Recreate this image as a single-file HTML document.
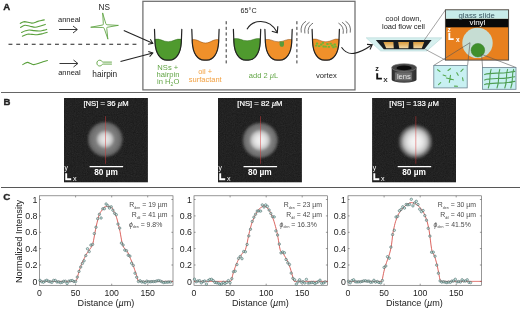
<!DOCTYPE html>
<html><head><meta charset="utf-8"><title>Figure</title>
<style>
html,body{margin:0;padding:0;background:#fff;}
body{width:520px;height:310px;overflow:hidden;}
svg{display:block;}
text{font-family:"Liberation Sans",sans-serif;}
.b{font-weight:bold;}
.g{fill:#62a545;}
.o{fill:#f2a040;}
.k{fill:#222;}
.w{fill:#fff;}
.m{text-anchor:middle;}
.e{text-anchor:end;}
</style></head><body>
<svg width="520" height="310" viewBox="0 0 520 310">
<defs>
<filter id="nz" x="0" y="0" width="100%" height="100%"><feTurbulence type="fractalNoise" baseFrequency="0.9" numOctaves="2" seed="3"/><feColorMatrix type="matrix" values="0 0 0 0 1  0 0 0 0 1  0 0 0 0 1  0.12 0.12 0.12 0 -0.08"/></filter>
<filter id="bl"><feGaussianBlur stdDeviation="0.35"/></filter>
</defs>
<rect width="520" height="310" fill="#fff"/>

<text class="b k" stroke="#222" stroke-width="0.35" x="3.2" y="10" font-size="9.6">A</text>
<text class="b k" stroke="#222" stroke-width="0.35" x="3.5" y="104.8" font-size="9.6">B</text>
<text class="b k" stroke="#222" stroke-width="0.35" x="3.2" y="200" font-size="9.8">C</text>
<line x1="1" y1="92.5" x2="520" y2="92.5" stroke="#555" stroke-width="0.9"/>
<line x1="1" y1="187.5" x2="520" y2="187.5" stroke="#444" stroke-width="0.9"/>
<path d="M20.2,23.4 C20.9,23.1 22.6,21.7 24.5,21.6 C26.4,21.6 29.6,23.1 31.8,23.1 C34.0,23.1 35.9,21.9 38.0,21.4 C40.1,20.9 43.2,20.1 44.3,19.9" fill="none" stroke="#5aa03c" stroke-width="1.1" stroke-linecap="round"/>
<path d="M20.6,27.5 C21.3,27.1 23.4,25.4 25.0,25.2 C26.6,25.0 28.3,25.9 30.0,26.2 C31.7,26.5 33.4,27.2 35.1,27.2 C36.9,27.2 38.8,26.5 40.5,26.0 C42.2,25.5 44.5,24.7 45.3,24.4" fill="none" stroke="#5aa03c" stroke-width="1.1" stroke-linecap="round"/>
<path d="M21.6,32.5 C22.2,32.2 24.2,31.2 25.5,30.8 C26.8,30.4 27.9,30.0 29.3,30.0 C30.7,30.0 32.4,30.4 34.0,30.6 C35.6,30.8 37.5,31.0 39.0,31.0 C40.5,31.0 41.7,30.7 43.0,30.4 C44.3,30.1 46.1,29.6 46.7,29.4" fill="none" stroke="#5aa03c" stroke-width="1.1" stroke-linecap="round"/>
<path d="M22.4,36.2 C23.2,35.9 25.8,34.5 27.4,34.2 C29.0,33.9 30.4,34.3 32.0,34.4 C33.6,34.5 35.4,34.8 37.1,34.7 C38.9,34.6 40.8,34.1 42.5,33.7 C44.2,33.3 46.4,32.5 47.2,32.3" fill="none" stroke="#5aa03c" stroke-width="1.1" stroke-linecap="round"/>
<path d="M22.8,64.6 C23.2,64.4 24.4,63.6 25.2,63.2 C26.0,62.8 26.8,62.3 27.7,62.4 C28.6,62.5 29.8,63.2 30.8,63.6 C31.8,64.0 32.6,64.6 33.8,64.6 C35.0,64.6 36.5,64.1 38.0,63.6 C39.5,63.1 41.4,62.3 43.0,61.8 C44.6,61.3 46.7,60.7 47.4,60.5" fill="none" stroke="#5aa03c" stroke-width="1.1" stroke-linecap="round"/>
<text class="k" x="58" y="21.8" font-size="7.5">anneal</text>
<text class="k" x="58.2" y="74.6" font-size="7.5">anneal</text>
<path d="M59,29.5 H77" stroke="#222" stroke-width="0.9" fill="none"/><path d="M73,26.0 L77.4,29.5 L73,33.0" stroke="#222" stroke-width="0.9" fill="none"/>
<path d="M59.5,63.5 H77.5" stroke="#222" stroke-width="0.9" fill="none"/><path d="M73.5,60.0 L77.9,63.5 L73.5,67.0" stroke="#222" stroke-width="0.9" fill="none"/>
<text class="k m" x="104.3" y="9.8" font-size="8.2">NS</text>
<text class="k m" x="104.8" y="77.2" font-size="8.3">hairpin</text>
<line x1="8.5" y1="44.3" x2="138" y2="44.3" stroke="#222" stroke-width="1.1" stroke-dasharray="3.9 3.85"/>
<path d="M102.7,13.3 L103.32,23.79 Q103.53,24.97 102.34,25.06 L91.1,27.2 M102.7,13.3 L105.81,23.62 Q106.03,24.80 107.23,24.74 L118,25.4 M107.8,38.8 L104.28,28.59 Q104.02,27.42 102.83,27.51 L91.1,27.2 M107.8,38.8 L106.78,28.43 Q106.52,27.25 107.72,27.19 L118,25.4" fill="none" stroke="#5aa03c" stroke-width="0.85" stroke-linejoin="round" stroke-linecap="round"/>
<path d="M111.5,62.1 H103.2 C102,62.1 101.6,60.2 99.8,60.2 C98,60.2 96.9,61.5 96.9,63.1 C96.9,64.7 98,66 99.8,66 C101.6,66 102,64.1 103.2,64.1 H111.5" fill="none" stroke="#5aa03c" stroke-width="0.9" stroke-linecap="round"/>
<rect x="142.9" y="1.3" width="212.1" height="88.6" fill="#fff" stroke="#6e6e6e" stroke-width="1.25"/>
<path d="M123.8,30.4 L152.8,43.3" stroke="#222" stroke-width="1.05" fill="none"/><path d="M148.1,44.2 L152.8,43.3 L150.3,39.2" stroke="#222" stroke-width="1.05" fill="none"/>
<path d="M120.5,61.5 L152.8,53.1" stroke="#222" stroke-width="1.05" fill="none"/><path d="M149.6,56.7 L152.8,53.1 L148.3,51.5" stroke="#222" stroke-width="1.05" fill="none"/>
<path d="M154.8,39.3 C160.5,38.199999999999996 162.7,41.699999999999996 168.2,41.699999999999996 C173.6,41.699999999999996 175.8,38.199999999999996 181.5,39.3 L181.3,42.5 C180.7,53.5 176.0,60.1 169.6,60.1 L166.8,60.1 C160.3,60.1 155.6,53.5 155.0,42.5 Z" fill="#4f9a2e" stroke="#2f6a1c" stroke-width="0.5"/><path d="M154.5,29.4 L155.0,42.5 C155.6,53.5 160.3,60.1 166.8,60.1 L169.6,60.1 C176.0,60.1 180.7,53.5 181.3,42.5 L181.8,29.4" fill="none" stroke="#222" stroke-width="1.2" stroke-linecap="round"/>
<path d="M192.1,39.8 C197.8,38.699999999999996 200.0,43.0 205.5,43.0 C210.9,43.0 213.1,38.699999999999996 218.8,39.8 L218.6,42.5 C218.0,53.5 213.3,60.1 206.9,60.1 L204.1,60.1 C197.6,60.1 192.9,53.5 192.3,42.5 Z" fill="#f0902a" stroke="#8a4a10" stroke-width="0.5"/><path d="M191.8,29.4 L192.3,42.5 C192.9,53.5 197.6,60.1 204.1,60.1 L206.9,60.1 C213.3,60.1 218.0,53.5 218.6,42.5 L219.10000000000002,29.4" fill="none" stroke="#222" stroke-width="1.2" stroke-linecap="round"/>
<path d="M233.7,38.8 C239.4,37.699999999999996 241.6,40.8 247.1,40.8 C252.5,40.8 254.7,37.699999999999996 260.4,38.8 L260.2,42.5 C259.6,53.5 254.9,60.1 248.5,60.1 L245.7,60.1 C239.2,60.1 234.5,53.5 233.9,42.5 Z" fill="#4f9a2e" stroke="#2f6a1c" stroke-width="0.5"/><path d="M233.4,29.4 L233.9,42.5 C234.5,53.5 239.2,60.1 245.7,60.1 L248.5,60.1 C254.9,60.1 259.6,53.5 260.2,42.5 L260.7,29.4" fill="none" stroke="#222" stroke-width="1.2" stroke-linecap="round"/>
<path d="M265.2,39.6 C270.9,38.5 273.1,41.800000000000004 278.5,41.800000000000004 C284.0,41.800000000000004 286.2,38.5 291.9,39.6 L291.7,42.5 C291.1,53.5 286.4,60.1 279.9,60.1 L277.1,60.1 C270.7,60.1 266.0,53.5 265.4,42.5 Z" fill="#f0902a" stroke="#8a4a10" stroke-width="0.5"/><path d="M264.9,29.4 L265.4,42.5 C266.0,53.5 270.7,60.1 277.1,60.1 L279.9,60.1 C286.4,60.1 291.1,53.5 291.7,42.5 L292.2,29.4" fill="none" stroke="#222" stroke-width="1.2" stroke-linecap="round"/>
<path d="M312.4,39.2 C318.1,38.1 320.3,41.800000000000004 325.8,41.800000000000004 C331.2,41.800000000000004 333.4,38.1 339.1,39.2 L338.9,42.5 C338.3,53.5 333.6,60.1 327.1,60.1 L324.4,60.1 C317.9,60.1 313.2,53.5 312.6,42.5 Z" fill="#f0902a" stroke="#8a4a10" stroke-width="0.5"/><path d="M312.1,29.4 L312.6,42.5 C313.2,53.5 317.9,60.1 324.4,60.1 L327.1,60.1 C333.6,60.1 338.3,53.5 338.9,42.5 L339.40000000000003,29.4" fill="none" stroke="#222" stroke-width="1.2" stroke-linecap="round"/>
<path d="M279.6,41.6 h4.4 v3.4 l-0.9,1.7 h-2.5 l-1,-1.6z" fill="#5a9a3a"/>
<path d="M314.6,43 Q326,45.6 337.2,43 L336.6,47.4 Q326,49 315,47.4 Z" fill="#d8a428" opacity="0.55"/>
<rect x="320.1" y="43.5" width="2.3" height="1.9" rx="0.5" fill="#72b436"/><rect x="326.3" y="43.0" width="2.3" height="1.9" rx="0.5" fill="#72b436"/><rect x="327.7" y="45.9" width="2.3" height="1.9" rx="0.5" fill="#72b436"/><rect x="324.6" y="45.7" width="2.3" height="1.9" rx="0.5" fill="#72b436"/><rect x="333.6" y="43.5" width="2.3" height="1.9" rx="0.5" fill="#72b436"/><rect x="315.9" y="42.5" width="2.3" height="1.9" rx="0.5" fill="#72b436"/><rect x="321.8" y="41.9" width="2.3" height="1.9" rx="0.5" fill="#72b436"/><rect x="331.1" y="44.5" width="2.3" height="1.9" rx="0.5" fill="#72b436"/><rect x="318.0" y="45.2" width="2.3" height="1.9" rx="0.5" fill="#72b436"/><rect x="329.5" y="42.7" width="2.3" height="1.9" rx="0.5" fill="#72b436"/><rect x="334.5" y="45.7" width="2.3" height="1.9" rx="0.5" fill="#72b436"/><rect x="322.5" y="45.5" width="2.3" height="1.9" rx="0.5" fill="#72b436"/><rect x="315.1" y="44.7" width="2.3" height="1.9" rx="0.5" fill="#72b436"/><rect x="332.3" y="46.3" width="2.3" height="1.9" rx="0.5" fill="#72b436"/>
<line x1="226.2" y1="21.2" x2="226.2" y2="63.4" stroke="#333" stroke-width="1" stroke-dasharray="3.1 2.5"/>
<line x1="296.9" y1="21.2" x2="296.9" y2="63.4" stroke="#333" stroke-width="1" stroke-dasharray="3.1 2.5"/>
<text class="g m" font-size="7.6"><tspan x="167.8" y="69.9">NSs +</tspan><tspan x="168" y="77">hairpin</tspan><tspan x="168.2" y="84.2">in H<tspan font-size="5" dy="1.6">2</tspan><tspan dy="-1.6">O</tspan></tspan></text>
<text class="o m" font-size="7.5"><tspan x="205.2" y="74.4">oil +</tspan><tspan x="205.2" y="82">surfactant</tspan></text>
<text class="k m" x="248.6" y="12.6" font-size="7.2">65°C</text>
<text class="g m" x="263.5" y="78" font-size="7.5">add 2 <tspan font-style="italic">µ</tspan>L</text>
<text class="k m" x="326.4" y="78" font-size="7.6">vortex</text>
<path d="M247,29.3 C252,19.5 269,17.5 276.8,31.8" stroke="#222" stroke-width="1.15" fill="none"/>
<path d="M271.8,31.2 L277.3,32.8 L277.8,26.2" stroke="#222" stroke-width="1.15" fill="none"/>
<path d="M301.2,32.2 Q300.0,24.7 305.6,21.5 M350.3,32.2 Q351.5,24.7 345.9,21.5 M304.8,33 Q303.6,25.599999999999998 309.2,22.4 M346.7,33 Q347.9,25.599999999999998 342.3,22.4 M308.3,33.4 Q307.1,26.5 312.7,23.3 M343.2,33.4 Q344.4,26.5 338.8,23.3 " stroke="#444" stroke-width="0.75" fill="none" stroke-linecap="round"/>
<path d="M341.5,47.3 C345,52.5 349,54.2 354,53.4 C360,52.4 366,49 371.8,45" stroke="#222" stroke-width="1.1" fill="none"/>
<path d="M367,44.4 L372.2,44.7 L370,49.6" stroke="#222" stroke-width="1.1" fill="none"/>
<text class="k m" font-size="7.5"><tspan x="403.5" y="20.8">cool down,</tspan><tspan x="403.5" y="28.9">load flow cell</tspan></text>
<path d="M366.2,37.8 H441.8 L426.7,51 H380.7 Z" fill="#d6f0ef" stroke="#a8d0d0" stroke-width="0.5"/>
<path d="M375.8,39.9 H431.6 L424.4,49.2 H383.8 Z" fill="#181c20"/>
<defs><linearGradient id="tg" x1="0" y1="0" x2="0" y2="1"><stop offset="0" stop-color="#d99a3c"/><stop offset="0.6" stop-color="#e9c07a"/><stop offset="1" stop-color="#f0d8a8"/></linearGradient></defs>
<path d="M383.4,42 H393.4 L393.8,48.3 H386.2 Z" fill="url(#tg)"/>
<path d="M398.2,42 H409 L408.4,48.3 H399.2 Z" fill="url(#tg)"/>
<path d="M413.2,42 H424.2 L421.8,48.3 H413.4 Z" fill="url(#tg)"/>
<path d="M423.9,40.6 L445.4,10 M425.4,49.4 L445.4,60" stroke="#666" stroke-width="0.6" fill="none"/>
<text class="k b" x="375.2" y="71.1" font-size="7.3">z</text>
<path d="M377.2,73.2 V78.6 H381.9" stroke="#111" stroke-width="1.9" fill="none"/>
<text class="k" x="383.4" y="81.7" font-size="8" stroke="#222" stroke-width="0.2">x</text>
<defs><linearGradient id="lg" x1="0" y1="0" x2="1" y2="0"><stop offset="0" stop-color="#2a2a2a"/><stop offset="0.3" stop-color="#4a4a4a"/><stop offset="0.7" stop-color="#4a4a4a"/><stop offset="1" stop-color="#2a2a2a"/></linearGradient></defs>
<path d="M391.7,67.6 V79.6 A12.4,3.2 0 0 0 416.5,79.6 V67.6 Z" fill="url(#lg)"/>
<ellipse cx="404.1" cy="67.6" rx="12.4" ry="3.9" fill="#444" stroke="#808080" stroke-width="0.6"/>
<ellipse cx="404.1" cy="67.9" rx="7.6" ry="2.3" fill="#0c0c0c"/>
<rect x="394.9" y="72.4" width="17" height="8" fill="#6c6c6c"/>
<text class="m" x="403.9" y="79" font-size="7.6" fill="#eaeaea">lens</text>
<rect x="445.4" y="9.8" width="63.2" height="50.3" fill="#e8801e"/>
<rect x="445.4" y="9.8" width="63.2" height="9.1" fill="#c8ecea"/>
<rect x="445.4" y="18.9" width="63.2" height="8.4" fill="#0a0a0a"/>
<circle cx="477.5" cy="42.9" r="15.2" fill="#c6ddd3"/>
<circle cx="477.9" cy="50.2" r="6.8" fill="#3f8f2c" stroke="#357a26" stroke-width="0.5"/>
<rect x="445.4" y="9.8" width="63.2" height="50.3" fill="none" stroke="#444" stroke-width="0.9"/>
<text class="m" x="476.7" y="17.5" font-size="7.8" fill="#3a5560">glass slide</text>
<text class="m w" x="477.4" y="25.3" font-size="8">vinyl</text>
<text class="w b" x="447.5" y="32.1" font-size="6.4">z</text>
<path d="M449.3,32.8 V39.1 H453.7" stroke="#fff" stroke-width="1.9" fill="none"/>
<text class="w b" x="455.9" y="42.2" font-size="6.6">x</text>
<path d="M470,42.7 L433.8,65.4 M470,42.7 L467.6,65.4 M481.6,54.3 L482.6,67.5 M481.6,54.3 L516,67.5" stroke="#555" stroke-width="0.6" fill="none"/>
<rect x="433.8" y="65.4" width="33.4" height="22.5" fill="#c8f0f2" stroke="#6a8290" stroke-width="0.8"/>
<rect x="482.4" y="67.5" width="33.6" height="21.8" fill="#c8f0f2" stroke="#6a8290" stroke-width="0.8"/>
<path d="M437.6,69.7 L440.0,71.5 M448.0,70.5 L450.4,68.7 M460.9,71.3 L463.1,69.1 M462.5,77.7 L463.1,80.7 M438.5,84.6 L440.7,82.6 M454.5,86.1 L457.5,86.3 M443.1,75.0 L445.9,76.0 M456.8,72.7 L458.2,75.3 M446.4,78.0 L453.4,79.8 M450.5,75.4 L449.3,82.4 " stroke="#55a850" stroke-width="1.1" fill="none" stroke-linecap="round"/>
<path d="M484.6,74.6 C492,71.8 500,74.6 514.8,71.4 M484.6,80.0 C492,77.2 500,80.0 514.8,76.80000000000001 M484.6,84.6 C492,81.8 500,84.6 514.8,81.4 M491.09999999999997,69.4 C488.9,75 491.2,81 488.3,88 M499.79999999999995,69.4 C497.59999999999997,75 499.9,81 497.0,88 M507.59999999999997,69.4 C505.4,75 507.7,81 504.8,88 M513.6,69.4 C511.40000000000003,75 513.7,81 510.80000000000007,88 " stroke="#4f9f55" stroke-width="1.1" fill="none" stroke-linecap="round"/>
<defs><filter id="bb0" x="-30%" y="-30%" width="160%" height="160%"><feGaussianBlur stdDeviation="1.1"/></filter>
<radialGradient id="h0" gradientUnits="userSpaceOnUse" cx="105.2" cy="139.3" r="17.8"><stop offset="0" stop-color="#8a8a8a" stop-opacity="1.000"/><stop offset="0.3" stop-color="#8a8a8a" stop-opacity="0.972"/><stop offset="0.5" stop-color="#8a8a8a" stop-opacity="0.917"/><stop offset="0.65" stop-color="#8a8a8a" stop-opacity="0.848"/><stop offset="0.78" stop-color="#8a8a8a" stop-opacity="0.755"/><stop offset="0.87" stop-color="#8a8a8a" stop-opacity="0.654"/><stop offset="0.93" stop-color="#8a8a8a" stop-opacity="0.549"/><stop offset="0.97" stop-color="#8a8a8a" stop-opacity="0.428"/><stop offset="1.0" stop-color="#8a8a8a" stop-opacity="0.000"/></radialGradient>
<radialGradient id="d0" gradientUnits="userSpaceOnUse" cx="105.2" cy="139.3" r="9.0"><stop offset="0" stop-color="#ffffff" stop-opacity="0.800"/><stop offset="0.3" stop-color="#ffffff" stop-opacity="0.756"/><stop offset="0.5" stop-color="#ffffff" stop-opacity="0.673"/><stop offset="0.65" stop-color="#ffffff" stop-opacity="0.575"/><stop offset="0.78" stop-color="#ffffff" stop-opacity="0.456"/><stop offset="0.87" stop-color="#ffffff" stop-opacity="0.342"/><stop offset="0.93" stop-color="#ffffff" stop-opacity="0.241"/><stop offset="0.97" stop-color="#ffffff" stop-opacity="0.147"/><stop offset="1.0" stop-color="#ffffff" stop-opacity="0.000"/></radialGradient>
<radialGradient id="h1" gradientUnits="userSpaceOnUse" cx="260.2" cy="140.3" r="18.0"><stop offset="0" stop-color="#909090" stop-opacity="1.000"/><stop offset="0.3" stop-color="#909090" stop-opacity="0.972"/><stop offset="0.5" stop-color="#909090" stop-opacity="0.917"/><stop offset="0.65" stop-color="#909090" stop-opacity="0.848"/><stop offset="0.78" stop-color="#909090" stop-opacity="0.755"/><stop offset="0.87" stop-color="#909090" stop-opacity="0.654"/><stop offset="0.93" stop-color="#909090" stop-opacity="0.549"/><stop offset="0.97" stop-color="#909090" stop-opacity="0.428"/><stop offset="1.0" stop-color="#909090" stop-opacity="0.000"/></radialGradient>
<radialGradient id="d1" gradientUnits="userSpaceOnUse" cx="260.2" cy="140.3" r="10.6"><stop offset="0" stop-color="#ffffff" stop-opacity="0.880"/><stop offset="0.3" stop-color="#ffffff" stop-opacity="0.832"/><stop offset="0.5" stop-color="#ffffff" stop-opacity="0.740"/><stop offset="0.65" stop-color="#ffffff" stop-opacity="0.633"/><stop offset="0.78" stop-color="#ffffff" stop-opacity="0.501"/><stop offset="0.87" stop-color="#ffffff" stop-opacity="0.377"/><stop offset="0.93" stop-color="#ffffff" stop-opacity="0.265"/><stop offset="0.97" stop-color="#ffffff" stop-opacity="0.161"/><stop offset="1.0" stop-color="#ffffff" stop-opacity="0.000"/></radialGradient>
<radialGradient id="h2" gradientUnits="userSpaceOnUse" cx="415.5" cy="141.7" r="17.0"><stop offset="0" stop-color="#929292" stop-opacity="1.000"/><stop offset="0.3" stop-color="#929292" stop-opacity="0.972"/><stop offset="0.5" stop-color="#929292" stop-opacity="0.917"/><stop offset="0.65" stop-color="#929292" stop-opacity="0.848"/><stop offset="0.78" stop-color="#929292" stop-opacity="0.755"/><stop offset="0.87" stop-color="#929292" stop-opacity="0.654"/><stop offset="0.93" stop-color="#929292" stop-opacity="0.549"/><stop offset="0.97" stop-color="#929292" stop-opacity="0.428"/><stop offset="1.0" stop-color="#929292" stop-opacity="0.000"/></radialGradient>
<radialGradient id="d2" gradientUnits="userSpaceOnUse" cx="415.5" cy="141.7" r="14.2"><stop offset="0" stop-color="#ffffff" stop-opacity="0.920"/><stop offset="0.3" stop-color="#ffffff" stop-opacity="0.869"/><stop offset="0.5" stop-color="#ffffff" stop-opacity="0.774"/><stop offset="0.65" stop-color="#ffffff" stop-opacity="0.662"/><stop offset="0.78" stop-color="#ffffff" stop-opacity="0.524"/><stop offset="0.87" stop-color="#ffffff" stop-opacity="0.394"/><stop offset="0.93" stop-color="#ffffff" stop-opacity="0.277"/><stop offset="0.97" stop-color="#ffffff" stop-opacity="0.169"/><stop offset="1.0" stop-color="#ffffff" stop-opacity="0.000"/></radialGradient>
</defs>
<rect x="64.0" y="98.0" width="83.9" height="84.3" fill="#181818"/>
<rect x="64.0" y="98.0" width="83.9" height="84.3" filter="url(#nz)" opacity="0.45"/>
<g filter="url(#bb0)"><circle cx="105.2" cy="139.3" r="17.8" fill="url(#h0)"/>
<circle cx="105.2" cy="139.3" r="9.0" fill="url(#d0)"/></g>
<line x1="105.5" y1="116.2" x2="105.5" y2="163.8" stroke="#d63a3a" stroke-width="0.6" opacity="0.8"/>
<text class="w m" x="106.0" y="105.7" font-size="7.7" stroke="#fff" stroke-width="0.2">[NS] = 36 <tspan font-style="italic">µ</tspan>M</text>
<line x1="89.6" y1="166.7" x2="123.1" y2="166.7" stroke="#fff" stroke-width="1.3"/>
<text class="w m b" x="106.0" y="174.7" font-size="8.3">80 µm</text>
<text class="w" x="64.6" y="170.3" font-size="6.8">y</text>
<path d="M66.2,173.3 V179.2 H71.2" stroke="#fff" stroke-width="1.9" fill="none"/>
<text class="w" x="72.9" y="181.3" font-size="7.2">x</text>
<rect x="218.0" y="98.0" width="83.9" height="84.3" fill="#181818"/>
<rect x="218.0" y="98.0" width="83.9" height="84.3" filter="url(#nz)" opacity="0.45"/>
<g filter="url(#bb0)"><circle cx="260.2" cy="140.3" r="18.0" fill="url(#h1)"/>
<circle cx="260.2" cy="140.3" r="10.6" fill="url(#d1)"/></g>
<line x1="260.5" y1="116.2" x2="260.5" y2="163.8" stroke="#d63a3a" stroke-width="0.6" opacity="0.8"/>
<text class="w m" x="259.9" y="105.7" font-size="7.7" stroke="#fff" stroke-width="0.2">[NS] = 82 <tspan font-style="italic">µ</tspan>M</text>
<line x1="243.5" y1="166.7" x2="277.1" y2="166.7" stroke="#fff" stroke-width="1.3"/>
<text class="w m b" x="259.9" y="174.7" font-size="8.3">80 µm</text>
<text class="w" x="218.6" y="170.3" font-size="6.8">y</text>
<path d="M220.2,173.3 V179.2 H225.2" stroke="#fff" stroke-width="1.9" fill="none"/>
<text class="w" x="226.9" y="181.3" font-size="7.2">x</text>
<rect x="372.1" y="98.0" width="83.9" height="84.3" fill="#181818"/>
<rect x="372.1" y="98.0" width="83.9" height="84.3" filter="url(#nz)" opacity="0.45"/>
<g filter="url(#bb0)"><circle cx="415.5" cy="141.7" r="17.0" fill="url(#h2)"/>
<circle cx="415.5" cy="141.7" r="14.2" fill="url(#d2)"/></g>
<line x1="415.8" y1="116.2" x2="415.8" y2="163.8" stroke="#d63a3a" stroke-width="0.6" opacity="0.8"/>
<text class="w m" x="414.1" y="105.7" font-size="7.7" stroke="#fff" stroke-width="0.2">[NS] = 133 <tspan font-style="italic">µ</tspan>M</text>
<line x1="397.7" y1="166.7" x2="431.2" y2="166.7" stroke="#fff" stroke-width="1.3"/>
<text class="w m b" x="414.1" y="174.7" font-size="8.3">80 µm</text>
<text class="w" x="372.70000000000005" y="170.3" font-size="6.8">y</text>
<path d="M374.3,173.3 V179.2 H379.3" stroke="#fff" stroke-width="1.9" fill="none"/>
<text class="w" x="381.0" y="181.3" font-size="7.2">x</text>
<rect x="39.5" y="195.8" width="133.5" height="89.5" fill="#fff" stroke="#606060" stroke-width="0.65"/>
<path d="M75.6,285.3 v-1.6 M75.6,195.8 v1.6 M111.7,285.3 v-1.6 M111.7,195.8 v1.6 M147.7,285.3 v-1.6 M147.7,195.8 v1.6 M39.5,281.4 h1.6 M173.0,281.4 h-1.6 M39.5,265.0 h1.6 M173.0,265.0 h-1.6 M39.5,248.6 h1.6 M173.0,248.6 h-1.6 M39.5,232.3 h1.6 M173.0,232.3 h-1.6 M39.5,215.9 h1.6 M173.0,215.9 h-1.6 M39.5,199.5 h1.6 M173.0,199.5 h-1.6 " stroke="#555" stroke-width="0.6" fill="none"/>
<text class="k e" x="37.5" y="284.5" font-size="8.8">0</text>
<text class="k e" x="37.5" y="268.1" font-size="8.8">0.2</text>
<text class="k e" x="37.5" y="251.7" font-size="8.8">0.4</text>
<text class="k e" x="37.5" y="235.4" font-size="8.8">0.6</text>
<text class="k e" x="37.5" y="219.0" font-size="8.8">0.8</text>
<text class="k e" x="37.5" y="202.6" font-size="8.8">1</text>
<text class="k m" x="39.5" y="296.1" font-size="8.7">0</text>
<text class="k m" x="75.6" y="296.1" font-size="8.7">50</text>
<text class="k m" x="111.7" y="296.1" font-size="8.7">100</text>
<text class="k m" x="147.7" y="296.1" font-size="8.7">150</text>
<text class="k m" x="106.0" y="306.2" font-size="9.1">Distance (<tspan font-style="italic">µ</tspan>m)</text>
<path d="M39.5,281.4 L40.0,281.4 L40.5,281.4 L41.0,281.4 L41.5,281.4 L42.0,281.4 L42.5,281.4 L43.0,281.4 L43.5,281.4 L44.0,281.4 L44.5,281.4 L45.0,281.4 L45.5,281.4 L46.0,281.4 L46.5,281.4 L47.0,281.4 L47.5,281.4 L48.0,281.4 L48.5,281.4 L49.0,281.4 L49.5,281.4 L50.0,281.4 L50.5,281.4 L51.0,281.4 L51.5,281.4 L52.0,281.4 L52.5,281.4 L53.0,281.4 L53.5,281.4 L54.0,281.4 L54.5,281.4 L55.0,281.4 L55.5,281.4 L56.0,281.4 L56.5,281.4 L57.0,281.4 L57.5,281.4 L58.0,281.4 L58.5,281.4 L59.0,281.4 L59.5,281.4 L60.0,281.4 L60.5,281.4 L61.0,281.4 L61.5,281.4 L62.0,281.4 L62.5,281.4 L63.0,281.4 L63.5,281.4 L64.0,281.4 L64.5,281.4 L65.0,281.4 L65.5,281.4 L66.0,281.4 L66.5,281.4 L67.0,281.4 L67.5,281.4 L68.0,281.4 L68.5,281.4 L69.0,281.4 L69.5,281.4 L70.0,281.4 L70.5,281.4 L71.0,281.4 L71.5,281.4 L72.0,281.4 L72.5,281.4 L73.0,281.4 L73.5,281.4 L74.0,281.4 L74.5,281.4 L75.0,281.4 L75.5,281.4 L76.0,281.2 L76.5,280.4 L77.0,279.0 L77.5,277.1 L78.0,275.1 L78.5,273.3 L79.0,271.6 L79.5,270.1 L80.0,268.6 L80.5,267.1 L81.0,265.6 L81.5,264.1 L82.0,262.9 L82.5,261.8 L83.0,260.8 L83.5,259.8 L84.0,258.8 L84.5,257.8 L85.0,256.8 L85.5,255.8 L86.0,254.8 L86.5,253.9 L87.0,253.1 L87.5,252.4 L88.0,251.7 L88.5,251.1 L89.0,250.4 L89.5,249.7 L90.0,249.1 L90.5,248.4 L91.0,247.7 L91.5,246.9 L92.0,245.9 L92.5,244.8 L93.0,243.1 L93.5,240.7 L94.0,238.0 L94.5,235.2 L95.0,232.5 L95.5,229.8 L96.0,227.2 L96.5,225.0 L97.0,222.9 L97.5,220.9 L98.0,218.9 L98.5,216.9 L99.0,215.2 L99.5,213.9 L100.0,213.0 L100.5,212.2 L101.0,211.5 L101.5,210.8 L102.0,210.0 L102.5,209.3 L103.0,208.6 L103.5,207.9 L104.0,207.3 L104.5,207.0 L105.0,206.9 L105.5,206.8 L106.0,206.7 L106.5,206.5 L107.0,206.4 L107.5,206.3 L108.0,206.3 L108.5,206.4 L109.0,206.5 L109.5,206.6 L110.0,206.8 L110.5,206.9 L111.0,207.0 L111.5,207.2 L112.0,207.7 L112.5,208.6 L113.0,209.6 L113.5,210.7 L114.0,211.8 L114.5,212.8 L115.0,213.9 L115.5,215.0 L116.0,216.0 L116.5,217.4 L117.0,219.0 L117.5,220.9 L118.0,222.9 L118.5,224.9 L119.0,226.9 L119.5,229.1 L120.0,231.5 L120.5,234.2 L121.0,237.1 L121.5,239.9 L122.0,242.3 L122.5,244.2 L123.0,245.7 L123.5,246.9 L124.0,247.8 L124.5,248.4 L125.0,249.0 L125.5,249.6 L126.0,250.2 L126.5,250.7 L127.0,251.3 L127.5,252.0 L128.0,252.9 L128.5,254.0 L129.0,255.2 L129.5,256.4 L130.0,257.5 L130.5,258.7 L131.0,259.9 L131.5,261.0 L132.0,262.2 L132.5,263.5 L133.0,264.9 L133.5,266.3 L134.0,267.8 L134.5,269.3 L135.0,270.7 L135.5,272.2 L136.0,273.7 L136.5,275.4 L137.0,277.2 L137.5,279.0 L138.0,280.4 L138.5,281.2 L139.0,281.4 L139.5,281.4 L140.0,281.4 L140.5,281.4 L141.0,281.4 L141.5,281.4 L142.0,281.4 L142.5,281.4 L143.0,281.4 L143.5,281.4 L144.0,281.4 L144.5,281.4 L145.0,281.4 L145.5,281.4 L146.0,281.4 L146.5,281.4 L147.0,281.4 L147.5,281.4 L148.0,281.4 L148.5,281.4 L149.0,281.4 L149.5,281.4 L150.0,281.4 L150.5,281.4 L151.0,281.4 L151.5,281.4 L152.0,281.4 L152.5,281.4 L153.0,281.4 L153.5,281.4 L154.0,281.4 L154.5,281.4 L155.0,281.4 L155.5,281.4 L156.0,281.4 L156.5,281.4 L157.0,281.4 L157.5,281.4 L158.0,281.4 L158.5,281.4 L159.0,281.4 L159.5,281.4 L160.0,281.4 L160.5,281.4 L161.0,281.4 L161.5,281.4 L162.0,281.4 L162.5,281.4 L163.0,281.4 L163.5,281.4 L164.0,281.4 L164.5,281.4 L165.0,281.4 L165.5,281.4 L166.0,281.4 L166.5,281.4 L167.0,281.4 L167.5,281.4 L168.0,281.4 L168.5,281.4 L169.0,281.4 L169.5,281.4 L170.0,281.4 L170.5,281.4 L171.0,281.4 L171.5,281.4 L172.0,281.4 L172.5,281.4 L173.0,281.4" fill="none" stroke="#d23c36" stroke-width="0.8" stroke-linejoin="round"/>
<g fill="#a8e0d4" fill-opacity="0.55" stroke="#4b6668" stroke-width="0.6"><circle cx="40.0" cy="280.4" r="1.2"/><circle cx="41.7" cy="281.7" r="1.2"/><circle cx="43.4" cy="282.2" r="1.2"/><circle cx="45.1" cy="281.0" r="1.2"/><circle cx="46.8" cy="280.3" r="1.2"/><circle cx="48.5" cy="281.3" r="1.2"/><circle cx="50.2" cy="281.8" r="1.2"/><circle cx="51.9" cy="282.3" r="1.2"/><circle cx="53.6" cy="280.4" r="1.2"/><circle cx="55.3" cy="280.4" r="1.2"/><circle cx="57.0" cy="282.0" r="1.2"/><circle cx="58.7" cy="281.8" r="1.2"/><circle cx="60.4" cy="282.6" r="1.2"/><circle cx="62.1" cy="282.2" r="1.2"/><circle cx="63.7" cy="281.3" r="1.2"/><circle cx="65.4" cy="281.2" r="1.2"/><circle cx="67.1" cy="283.5" r="1.2"/><circle cx="68.8" cy="281.2" r="1.2"/><circle cx="70.5" cy="280.8" r="1.2"/><circle cx="72.2" cy="280.5" r="1.2"/><circle cx="73.9" cy="281.5" r="1.2"/><circle cx="75.6" cy="281.5" r="1.2"/><circle cx="77.3" cy="277.1" r="1.2"/><circle cx="79.0" cy="271.4" r="1.2"/><circle cx="80.7" cy="267.0" r="1.2"/><circle cx="82.4" cy="263.4" r="1.2"/><circle cx="84.1" cy="260.8" r="1.2"/><circle cx="85.8" cy="255.6" r="1.2"/><circle cx="87.5" cy="248.8" r="1.2"/><circle cx="89.2" cy="251.6" r="1.2"/><circle cx="90.9" cy="245.1" r="1.2"/><circle cx="92.6" cy="244.4" r="1.2"/><circle cx="94.3" cy="233.6" r="1.2"/><circle cx="96.0" cy="227.2" r="1.2"/><circle cx="97.7" cy="218.7" r="1.2"/><circle cx="99.4" cy="214.3" r="1.2"/><circle cx="101.1" cy="218.0" r="1.2"/><circle cx="102.8" cy="208.8" r="1.2"/><circle cx="104.4" cy="208.7" r="1.2"/><circle cx="106.1" cy="204.0" r="1.2"/><circle cx="107.8" cy="205.7" r="1.2"/><circle cx="109.5" cy="208.0" r="1.2"/><circle cx="111.2" cy="206.8" r="1.2"/><circle cx="112.9" cy="210.2" r="1.2"/><circle cx="114.6" cy="213.3" r="1.2"/><circle cx="116.3" cy="214.7" r="1.2"/><circle cx="118.0" cy="224.1" r="1.2"/><circle cx="119.7" cy="228.1" r="1.2"/><circle cx="121.4" cy="243.1" r="1.2"/><circle cx="123.1" cy="245.0" r="1.2"/><circle cx="124.8" cy="250.1" r="1.2"/><circle cx="126.5" cy="250.7" r="1.2"/><circle cx="128.2" cy="255.2" r="1.2"/><circle cx="129.9" cy="256.1" r="1.2"/><circle cx="131.6" cy="263.2" r="1.2"/><circle cx="133.3" cy="265.4" r="1.2"/><circle cx="135.0" cy="273.2" r="1.2"/><circle cx="136.7" cy="277.2" r="1.2"/><circle cx="138.4" cy="281.5" r="1.2"/><circle cx="140.1" cy="280.8" r="1.2"/><circle cx="141.8" cy="282.0" r="1.2"/><circle cx="143.4" cy="281.8" r="1.2"/><circle cx="145.1" cy="282.7" r="1.2"/><circle cx="146.8" cy="281.1" r="1.2"/><circle cx="148.5" cy="281.8" r="1.2"/><circle cx="150.2" cy="281.8" r="1.2"/><circle cx="151.9" cy="281.6" r="1.2"/><circle cx="153.6" cy="281.6" r="1.2"/><circle cx="155.3" cy="281.5" r="1.2"/><circle cx="157.0" cy="280.9" r="1.2"/><circle cx="158.7" cy="280.6" r="1.2"/><circle cx="160.4" cy="281.1" r="1.2"/><circle cx="162.1" cy="281.9" r="1.2"/><circle cx="163.8" cy="282.6" r="1.2"/><circle cx="165.5" cy="282.2" r="1.2"/><circle cx="167.2" cy="282.2" r="1.2"/><circle cx="168.9" cy="282.0" r="1.2"/><circle cx="170.6" cy="282.0" r="1.2"/></g>
<text class="e" x="167.5" y="207.3" font-size="6.9" fill="#4a4a4a">R<tspan font-size="3.6" dy="1.4">den</tspan><tspan dy="-1.4"> = 19 µm</tspan></text>
<text class="e" x="167.5" y="217.1" font-size="6.9" fill="#4a4a4a">R<tspan font-size="3.6" dy="1.4">dil</tspan><tspan dy="-1.4"> = 41 µm</tspan></text>
<text class="e" x="162.3" y="226.8" font-size="6.9" fill="#4a4a4a"><tspan font-style="italic">ϕ</tspan><tspan font-size="3.6" dy="1.4">den</tspan><tspan dy="-1.4"> = 9.8%</tspan></text>
<rect x="194.0" y="195.8" width="133.5" height="89.5" fill="#fff" stroke="#606060" stroke-width="0.65"/>
<path d="M230.1,285.3 v-1.6 M230.1,195.8 v1.6 M266.2,285.3 v-1.6 M266.2,195.8 v1.6 M302.2,285.3 v-1.6 M302.2,195.8 v1.6 M194.0,281.4 h1.6 M327.5,281.4 h-1.6 M194.0,265.0 h1.6 M327.5,265.0 h-1.6 M194.0,248.6 h1.6 M327.5,248.6 h-1.6 M194.0,232.3 h1.6 M327.5,232.3 h-1.6 M194.0,215.9 h1.6 M327.5,215.9 h-1.6 M194.0,199.5 h1.6 M327.5,199.5 h-1.6 " stroke="#555" stroke-width="0.6" fill="none"/>
<text class="k e" x="192.0" y="284.5" font-size="8.8">0</text>
<text class="k e" x="192.0" y="268.1" font-size="8.8">0.2</text>
<text class="k e" x="192.0" y="251.7" font-size="8.8">0.4</text>
<text class="k e" x="192.0" y="235.4" font-size="8.8">0.6</text>
<text class="k e" x="192.0" y="219.0" font-size="8.8">0.8</text>
<text class="k e" x="192.0" y="202.6" font-size="8.8">1</text>
<text class="k m" x="194.0" y="296.1" font-size="8.7">0</text>
<text class="k m" x="230.1" y="296.1" font-size="8.7">50</text>
<text class="k m" x="266.2" y="296.1" font-size="8.7">100</text>
<text class="k m" x="302.2" y="296.1" font-size="8.7">150</text>
<text class="k m" x="260.4" y="306.2" font-size="9.1">Distance (<tspan font-style="italic">µ</tspan>m)</text>
<path d="M194.0,281.4 L194.5,281.4 L195.0,281.4 L195.5,281.4 L196.0,281.4 L196.5,281.4 L197.0,281.4 L197.5,281.4 L198.0,281.4 L198.5,281.4 L199.0,281.4 L199.5,281.4 L200.0,281.4 L200.5,281.4 L201.0,281.4 L201.5,281.4 L202.0,281.4 L202.5,281.4 L203.0,281.4 L203.5,281.4 L204.0,281.4 L204.5,281.4 L205.0,281.4 L205.5,281.4 L206.0,281.4 L206.5,281.4 L207.0,281.4 L207.5,281.4 L208.0,281.4 L208.5,281.4 L209.0,281.4 L209.5,281.4 L210.0,281.4 L210.5,281.4 L211.0,281.4 L211.5,281.4 L212.0,281.4 L212.5,281.4 L213.0,281.4 L213.5,281.4 L214.0,281.4 L214.5,281.4 L215.0,281.4 L215.5,281.4 L216.0,281.4 L216.5,281.4 L217.0,281.4 L217.5,281.4 L218.0,281.4 L218.5,281.4 L219.0,281.4 L219.5,281.4 L220.0,281.4 L220.5,281.4 L221.0,281.4 L221.5,281.4 L222.0,281.4 L222.5,281.4 L223.0,281.4 L223.5,281.4 L224.0,281.4 L224.5,281.4 L225.0,281.4 L225.5,281.4 L226.0,281.4 L226.5,281.4 L227.0,281.4 L227.5,281.4 L228.0,281.4 L228.5,281.4 L229.0,281.4 L229.5,281.4 L230.0,281.4 L230.5,281.4 L231.0,280.9 L231.5,279.6 L232.0,277.8 L232.5,275.8 L233.0,273.8 L233.5,272.1 L234.0,270.6 L234.5,269.1 L235.0,267.7 L235.5,266.3 L236.0,265.0 L236.5,263.8 L237.0,262.7 L237.5,261.6 L238.0,260.5 L238.5,259.4 L239.0,258.5 L239.5,257.6 L240.0,256.9 L240.5,256.1 L241.0,255.4 L241.5,254.6 L242.0,253.9 L242.5,253.2 L243.0,252.6 L243.5,252.1 L244.0,251.6 L244.5,251.2 L245.0,250.5 L245.5,249.4 L246.0,247.7 L246.5,245.6 L247.0,243.4 L247.5,241.1 L248.0,238.6 L248.5,236.1 L249.0,233.7 L249.5,231.6 L250.0,229.7 L250.5,227.8 L251.0,225.9 L251.5,224.2 L252.0,222.7 L252.5,221.4 L253.0,220.2 L253.5,218.9 L254.0,217.7 L254.5,216.5 L255.0,215.4 L255.5,214.5 L256.0,213.7 L256.5,212.9 L257.0,212.0 L257.5,211.2 L258.0,210.4 L258.5,209.6 L259.0,209.1 L259.5,208.7 L260.0,208.3 L260.5,207.9 L261.0,207.6 L261.5,207.2 L262.0,206.8 L262.5,206.4 L263.0,206.1 L263.5,205.9 L264.0,205.9 L264.5,206.1 L265.0,206.4 L265.5,206.7 L266.0,207.0 L266.5,207.3 L267.0,207.6 L267.5,208.0 L268.0,208.7 L268.5,209.4 L269.0,210.2 L269.5,210.9 L270.0,211.7 L270.5,212.5 L271.0,213.6 L271.5,214.8 L272.0,216.1 L272.5,217.3 L273.0,218.6 L273.5,219.9 L274.0,221.4 L274.5,223.1 L275.0,224.8 L275.5,226.6 L276.0,228.3 L276.5,230.1 L277.0,232.3 L277.5,234.9 L278.0,237.7 L278.5,240.6 L279.0,243.5 L279.5,246.7 L280.0,249.2 L280.5,250.8 L281.0,251.4 L281.5,251.9 L282.0,252.4 L282.5,252.9 L283.0,253.5 L283.5,254.1 L284.0,254.9 L284.5,255.8 L285.0,256.6 L285.5,257.4 L286.0,258.3 L286.5,259.1 L287.0,260.1 L287.5,261.2 L288.0,262.4 L288.5,263.6 L289.0,264.9 L289.5,266.1 L290.0,267.5 L290.5,269.0 L291.0,270.7 L291.5,272.4 L292.0,274.2 L292.5,276.1 L293.0,278.2 L293.5,280.0 L294.0,281.1 L294.5,281.4 L295.0,281.4 L295.5,281.4 L296.0,281.4 L296.5,281.4 L297.0,281.4 L297.5,281.4 L298.0,281.4 L298.5,281.4 L299.0,281.4 L299.5,281.4 L300.0,281.4 L300.5,281.4 L301.0,281.4 L301.5,281.4 L302.0,281.4 L302.5,281.4 L303.0,281.4 L303.5,281.4 L304.0,281.4 L304.5,281.4 L305.0,281.4 L305.5,281.4 L306.0,281.4 L306.5,281.4 L307.0,281.4 L307.5,281.4 L308.0,281.4 L308.5,281.4 L309.0,281.4 L309.5,281.4 L310.0,281.4 L310.5,281.4 L311.0,281.4 L311.5,281.4 L312.0,281.4 L312.5,281.4 L313.0,281.4 L313.5,281.4 L314.0,281.4 L314.5,281.4 L315.0,281.4 L315.5,281.4 L316.0,281.4 L316.5,281.4 L317.0,281.4 L317.5,281.4 L318.0,281.4 L318.5,281.4 L319.0,281.4 L319.5,281.4 L320.0,281.4 L320.5,281.4 L321.0,281.4 L321.5,281.4 L322.0,281.4 L322.5,281.4 L323.0,281.4 L323.5,281.4 L324.0,281.4 L324.5,281.4 L325.0,281.4 L325.5,281.4 L326.0,281.4 L326.5,281.4 L327.0,281.4 L327.5,281.4" fill="none" stroke="#d23c36" stroke-width="0.8" stroke-linejoin="round"/>
<g fill="#a8e0d4" fill-opacity="0.55" stroke="#4b6668" stroke-width="0.6"><circle cx="194.5" cy="279.2" r="1.2"/><circle cx="196.2" cy="281.7" r="1.2"/><circle cx="197.9" cy="281.0" r="1.2"/><circle cx="199.6" cy="280.7" r="1.2"/><circle cx="201.3" cy="282.9" r="1.2"/><circle cx="203.0" cy="281.5" r="1.2"/><circle cx="204.7" cy="281.0" r="1.2"/><circle cx="206.4" cy="284.1" r="1.2"/><circle cx="208.1" cy="280.7" r="1.2"/><circle cx="209.8" cy="279.5" r="1.2"/><circle cx="211.5" cy="279.3" r="1.2"/><circle cx="213.2" cy="280.6" r="1.2"/><circle cx="214.9" cy="282.4" r="1.2"/><circle cx="216.6" cy="282.7" r="1.2"/><circle cx="218.2" cy="283.1" r="1.2"/><circle cx="219.9" cy="284.2" r="1.2"/><circle cx="221.6" cy="284.0" r="1.2"/><circle cx="223.3" cy="282.4" r="1.2"/><circle cx="225.0" cy="283.4" r="1.2"/><circle cx="226.7" cy="282.4" r="1.2"/><circle cx="228.4" cy="280.6" r="1.2"/><circle cx="230.1" cy="282.7" r="1.2"/><circle cx="231.8" cy="278.7" r="1.2"/><circle cx="233.5" cy="271.7" r="1.2"/><circle cx="235.2" cy="271.2" r="1.2"/><circle cx="236.9" cy="264.6" r="1.2"/><circle cx="238.6" cy="258.4" r="1.2"/><circle cx="240.3" cy="256.4" r="1.2"/><circle cx="242.0" cy="258.7" r="1.2"/><circle cx="243.7" cy="251.5" r="1.2"/><circle cx="245.4" cy="251.8" r="1.2"/><circle cx="247.1" cy="244.5" r="1.2"/><circle cx="248.8" cy="235.9" r="1.2"/><circle cx="250.5" cy="229.2" r="1.2"/><circle cx="252.2" cy="221.4" r="1.2"/><circle cx="253.9" cy="217.2" r="1.2"/><circle cx="255.6" cy="214.2" r="1.2"/><circle cx="257.3" cy="211.0" r="1.2"/><circle cx="258.9" cy="210.9" r="1.2"/><circle cx="260.6" cy="211.1" r="1.2"/><circle cx="262.3" cy="204.9" r="1.2"/><circle cx="264.0" cy="207.0" r="1.2"/><circle cx="265.7" cy="204.9" r="1.2"/><circle cx="267.4" cy="206.5" r="1.2"/><circle cx="269.1" cy="210.0" r="1.2"/><circle cx="270.8" cy="213.4" r="1.2"/><circle cx="272.5" cy="216.6" r="1.2"/><circle cx="274.2" cy="216.9" r="1.2"/><circle cx="275.9" cy="230.9" r="1.2"/><circle cx="277.6" cy="235.0" r="1.2"/><circle cx="279.3" cy="244.1" r="1.2"/><circle cx="281.0" cy="252.9" r="1.2"/><circle cx="282.7" cy="252.0" r="1.2"/><circle cx="284.4" cy="252.8" r="1.2"/><circle cx="286.1" cy="259.5" r="1.2"/><circle cx="287.8" cy="262.8" r="1.2"/><circle cx="289.5" cy="264.5" r="1.2"/><circle cx="291.2" cy="273.1" r="1.2"/><circle cx="292.9" cy="278.3" r="1.2"/><circle cx="294.6" cy="279.8" r="1.2"/><circle cx="296.3" cy="284.1" r="1.2"/><circle cx="297.9" cy="281.9" r="1.2"/><circle cx="299.6" cy="279.8" r="1.2"/><circle cx="301.3" cy="282.2" r="1.2"/><circle cx="303.0" cy="281.7" r="1.2"/><circle cx="304.7" cy="283.0" r="1.2"/><circle cx="306.4" cy="279.4" r="1.2"/><circle cx="308.1" cy="283.1" r="1.2"/><circle cx="309.8" cy="282.9" r="1.2"/><circle cx="311.5" cy="282.5" r="1.2"/><circle cx="313.2" cy="282.4" r="1.2"/><circle cx="314.9" cy="283.5" r="1.2"/><circle cx="316.6" cy="282.6" r="1.2"/><circle cx="318.3" cy="281.7" r="1.2"/><circle cx="320.0" cy="280.2" r="1.2"/><circle cx="321.7" cy="283.2" r="1.2"/><circle cx="323.4" cy="283.0" r="1.2"/><circle cx="325.1" cy="281.9" r="1.2"/></g>
<text class="e" x="322.0" y="207.3" font-size="6.9" fill="#4a4a4a">R<tspan font-size="3.6" dy="1.4">den</tspan><tspan dy="-1.4"> = 23 µm</tspan></text>
<text class="e" x="322.0" y="217.1" font-size="6.9" fill="#4a4a4a">R<tspan font-size="3.6" dy="1.4">dil</tspan><tspan dy="-1.4"> = 42 µm</tspan></text>
<text class="e" x="316.8" y="226.8" font-size="6.9" fill="#4a4a4a"><tspan font-style="italic">ϕ</tspan><tspan font-size="3.6" dy="1.4">den</tspan><tspan dy="-1.4"> = 16.3%</tspan></text>
<rect x="348.0" y="195.8" width="133.5" height="89.5" fill="#fff" stroke="#606060" stroke-width="0.65"/>
<path d="M384.1,285.3 v-1.6 M384.1,195.8 v1.6 M420.2,285.3 v-1.6 M420.2,195.8 v1.6 M456.2,285.3 v-1.6 M456.2,195.8 v1.6 M348.0,281.4 h1.6 M481.5,281.4 h-1.6 M348.0,265.0 h1.6 M481.5,265.0 h-1.6 M348.0,248.6 h1.6 M481.5,248.6 h-1.6 M348.0,232.3 h1.6 M481.5,232.3 h-1.6 M348.0,215.9 h1.6 M481.5,215.9 h-1.6 M348.0,199.5 h1.6 M481.5,199.5 h-1.6 " stroke="#555" stroke-width="0.6" fill="none"/>
<text class="k e" x="346.0" y="284.5" font-size="8.8">0</text>
<text class="k e" x="346.0" y="268.1" font-size="8.8">0.2</text>
<text class="k e" x="346.0" y="251.7" font-size="8.8">0.4</text>
<text class="k e" x="346.0" y="235.4" font-size="8.8">0.6</text>
<text class="k e" x="346.0" y="219.0" font-size="8.8">0.8</text>
<text class="k e" x="346.0" y="202.6" font-size="8.8">1</text>
<text class="k m" x="348.0" y="296.1" font-size="8.7">0</text>
<text class="k m" x="384.1" y="296.1" font-size="8.7">50</text>
<text class="k m" x="420.2" y="296.1" font-size="8.7">100</text>
<text class="k m" x="456.2" y="296.1" font-size="8.7">150</text>
<text class="k m" x="414.4" y="306.2" font-size="9.1">Distance (<tspan font-style="italic">µ</tspan>m)</text>
<path d="M348.0,281.4 L348.5,281.4 L349.0,281.4 L349.5,281.4 L350.0,281.4 L350.5,281.4 L351.0,281.4 L351.5,281.4 L352.0,281.4 L352.5,281.4 L353.0,281.4 L353.5,281.4 L354.0,281.4 L354.5,281.4 L355.0,281.4 L355.5,281.4 L356.0,281.4 L356.5,281.4 L357.0,281.4 L357.5,281.4 L358.0,281.4 L358.5,281.4 L359.0,281.4 L359.5,281.4 L360.0,281.4 L360.5,281.4 L361.0,281.4 L361.5,281.4 L362.0,281.4 L362.5,281.4 L363.0,281.4 L363.5,281.4 L364.0,281.4 L364.5,281.4 L365.0,281.4 L365.5,281.4 L366.0,281.4 L366.5,281.4 L367.0,281.4 L367.5,281.4 L368.0,281.4 L368.5,281.4 L369.0,281.4 L369.5,281.4 L370.0,281.4 L370.5,281.4 L371.0,281.4 L371.5,281.4 L372.0,281.4 L372.5,281.4 L373.0,281.4 L373.5,281.4 L374.0,281.4 L374.5,281.4 L375.0,281.4 L375.5,281.4 L376.0,281.4 L376.5,281.4 L377.0,281.4 L377.5,281.4 L378.0,281.4 L378.5,281.4 L379.0,281.4 L379.5,281.4 L380.0,281.4 L380.5,281.4 L381.0,281.4 L381.5,281.4 L382.0,280.5 L382.5,278.6 L383.0,275.9 L383.5,273.4 L384.0,271.2 L384.5,269.1 L385.0,267.2 L385.5,265.5 L386.0,264.0 L386.5,262.5 L387.0,261.1 L387.5,259.7 L388.0,258.2 L388.5,256.8 L389.0,255.4 L389.5,253.8 L390.0,252.0 L390.5,249.9 L391.0,247.8 L391.5,244.8 L392.0,240.8 L392.5,236.2 L393.0,232.6 L393.5,229.9 L394.0,227.7 L394.5,225.5 L395.0,223.5 L395.5,221.7 L396.0,220.3 L396.5,219.0 L397.0,217.8 L397.5,216.5 L398.0,215.3 L398.5,214.2 L399.0,213.3 L399.5,212.6 L400.0,211.8 L400.5,211.1 L401.0,210.3 L401.5,209.6 L402.0,209.0 L402.5,208.5 L403.0,208.0 L403.5,207.5 L404.0,207.0 L404.5,206.5 L405.0,206.0 L405.5,205.5 L406.0,205.0 L406.5,204.6 L407.0,204.3 L407.5,204.0 L408.0,203.8 L408.5,203.5 L409.0,203.2 L409.5,203.0 L410.0,202.7 L410.5,202.6 L411.0,202.5 L411.5,202.6 L412.0,202.7 L412.5,202.8 L413.0,202.9 L413.5,202.9 L414.0,203.1 L414.5,203.3 L415.0,203.6 L415.5,203.9 L416.0,204.2 L416.5,204.6 L417.0,204.9 L417.5,205.2 L418.0,205.6 L418.5,205.9 L419.0,206.3 L419.5,206.9 L420.0,207.5 L420.5,208.2 L421.0,208.9 L421.5,209.5 L422.0,210.2 L422.5,210.9 L423.0,211.5 L423.5,212.3 L424.0,213.3 L424.5,214.4 L425.0,215.7 L425.5,216.9 L426.0,218.2 L426.5,219.5 L427.0,221.1 L427.5,223.0 L428.0,225.1 L428.5,227.2 L429.0,229.8 L429.5,233.1 L430.0,236.9 L430.5,240.9 L431.0,245.0 L431.5,248.4 L432.0,250.8 L432.5,252.2 L433.0,253.2 L433.5,254.2 L434.0,255.2 L434.5,256.3 L435.0,257.6 L435.5,259.2 L436.0,261.0 L436.5,262.8 L437.0,264.8 L437.5,267.1 L438.0,269.5 L438.5,272.1 L439.0,274.7 L439.5,277.5 L440.0,279.7 L440.5,281.0 L441.0,281.4 L441.5,281.4 L442.0,281.4 L442.5,281.4 L443.0,281.4 L443.5,281.4 L444.0,281.4 L444.5,281.4 L445.0,281.4 L445.5,281.4 L446.0,281.4 L446.5,281.4 L447.0,281.4 L447.5,281.4 L448.0,281.4 L448.5,281.4 L449.0,281.4 L449.5,281.4 L450.0,281.4 L450.5,281.4 L451.0,281.4 L451.5,281.4 L452.0,281.4 L452.5,281.4 L453.0,281.4 L453.5,281.4 L454.0,281.4 L454.5,281.4 L455.0,281.4 L455.5,281.4 L456.0,281.4 L456.5,281.4 L457.0,281.4 L457.5,281.4 L458.0,281.4 L458.5,281.4 L459.0,281.4 L459.5,281.4 L460.0,281.4 L460.5,281.4 L461.0,281.4 L461.5,281.4 L462.0,281.4 L462.5,281.4 L463.0,281.4 L463.5,281.4 L464.0,281.4 L464.5,281.4 L465.0,281.4 L465.5,281.4 L466.0,281.4 L466.5,281.4 L467.0,281.4 L467.5,281.4 L468.0,281.4 L468.5,281.4 L469.0,281.4 L469.5,281.4 L470.0,281.4 L470.5,281.4 L471.0,281.4 L471.5,281.4 L472.0,281.4 L472.5,281.4 L473.0,281.4 L473.5,281.4 L474.0,281.4 L474.5,281.4 L475.0,281.4 L475.5,281.4 L476.0,281.4 L476.5,281.4 L477.0,281.4 L477.5,281.4 L478.0,281.4 L478.5,281.4 L479.0,281.4 L479.5,281.4 L480.0,281.4 L480.5,281.4 L481.0,281.4 L481.5,281.4" fill="none" stroke="#d23c36" stroke-width="0.8" stroke-linejoin="round"/>
<g fill="#a8e0d4" fill-opacity="0.55" stroke="#4b6668" stroke-width="0.6"><circle cx="348.5" cy="281.3" r="1.2"/><circle cx="350.2" cy="282.8" r="1.2"/><circle cx="351.9" cy="280.7" r="1.2"/><circle cx="353.6" cy="279.8" r="1.2"/><circle cx="355.3" cy="281.7" r="1.2"/><circle cx="357.0" cy="282.0" r="1.2"/><circle cx="358.7" cy="281.8" r="1.2"/><circle cx="360.4" cy="281.9" r="1.2"/><circle cx="362.1" cy="281.4" r="1.2"/><circle cx="363.8" cy="280.9" r="1.2"/><circle cx="365.5" cy="280.8" r="1.2"/><circle cx="367.2" cy="281.3" r="1.2"/><circle cx="368.9" cy="281.1" r="1.2"/><circle cx="370.6" cy="282.3" r="1.2"/><circle cx="372.2" cy="282.0" r="1.2"/><circle cx="373.9" cy="280.3" r="1.2"/><circle cx="375.6" cy="282.1" r="1.2"/><circle cx="377.3" cy="281.5" r="1.2"/><circle cx="379.0" cy="282.5" r="1.2"/><circle cx="380.7" cy="282.9" r="1.2"/><circle cx="382.4" cy="280.5" r="1.2"/><circle cx="384.1" cy="267.4" r="1.2"/><circle cx="385.8" cy="266.0" r="1.2"/><circle cx="387.5" cy="256.7" r="1.2"/><circle cx="389.2" cy="258.2" r="1.2"/><circle cx="390.9" cy="247.1" r="1.2"/><circle cx="392.6" cy="234.6" r="1.2"/><circle cx="394.3" cy="230.3" r="1.2"/><circle cx="396.0" cy="217.0" r="1.2"/><circle cx="397.7" cy="216.3" r="1.2"/><circle cx="399.4" cy="210.8" r="1.2"/><circle cx="401.1" cy="209.4" r="1.2"/><circle cx="402.8" cy="206.8" r="1.2"/><circle cx="404.5" cy="208.1" r="1.2"/><circle cx="406.2" cy="204.5" r="1.2"/><circle cx="407.9" cy="204.8" r="1.2"/><circle cx="409.6" cy="204.4" r="1.2"/><circle cx="411.3" cy="199.3" r="1.2"/><circle cx="412.9" cy="205.9" r="1.2"/><circle cx="414.6" cy="203.0" r="1.2"/><circle cx="416.3" cy="201.3" r="1.2"/><circle cx="418.0" cy="204.5" r="1.2"/><circle cx="419.7" cy="209.2" r="1.2"/><circle cx="421.4" cy="211.7" r="1.2"/><circle cx="423.1" cy="210.5" r="1.2"/><circle cx="424.8" cy="215.6" r="1.2"/><circle cx="426.5" cy="220.2" r="1.2"/><circle cx="428.2" cy="228.3" r="1.2"/><circle cx="429.9" cy="236.1" r="1.2"/><circle cx="431.6" cy="252.2" r="1.2"/><circle cx="433.3" cy="252.2" r="1.2"/><circle cx="435.0" cy="256.2" r="1.2"/><circle cx="436.7" cy="265.1" r="1.2"/><circle cx="438.4" cy="273.2" r="1.2"/><circle cx="440.1" cy="280.9" r="1.2"/><circle cx="441.8" cy="282.1" r="1.2"/><circle cx="443.5" cy="281.7" r="1.2"/><circle cx="445.2" cy="282.2" r="1.2"/><circle cx="446.9" cy="282.6" r="1.2"/><circle cx="448.6" cy="282.0" r="1.2"/><circle cx="450.3" cy="282.3" r="1.2"/><circle cx="451.9" cy="281.1" r="1.2"/><circle cx="453.6" cy="281.0" r="1.2"/><circle cx="455.3" cy="279.3" r="1.2"/><circle cx="457.0" cy="281.9" r="1.2"/><circle cx="458.7" cy="281.5" r="1.2"/><circle cx="460.4" cy="282.0" r="1.2"/><circle cx="462.1" cy="279.8" r="1.2"/><circle cx="463.8" cy="281.1" r="1.2"/><circle cx="465.5" cy="281.0" r="1.2"/><circle cx="467.2" cy="279.8" r="1.2"/><circle cx="468.9" cy="282.3" r="1.2"/><circle cx="470.6" cy="282.6" r="1.2"/></g>
<text class="e" x="476.0" y="207.3" font-size="6.9" fill="#4a4a4a">R<tspan font-size="3.6" dy="1.4">den</tspan><tspan dy="-1.4"> = 30 µm</tspan></text>
<text class="e" x="476.0" y="217.1" font-size="6.9" fill="#4a4a4a">R<tspan font-size="3.6" dy="1.4">dil</tspan><tspan dy="-1.4"> = 40 µm</tspan></text>
<text class="e" x="470.8" y="226.8" font-size="6.9" fill="#4a4a4a"><tspan font-style="italic">ϕ</tspan><tspan font-size="3.6" dy="1.4">den</tspan><tspan dy="-1.4"> = 41.5%</tspan></text>
<text class="k m" transform="translate(21.8,241.5) rotate(-90)" font-size="9.2">Normalized Intensity</text>
</svg></body></html>
